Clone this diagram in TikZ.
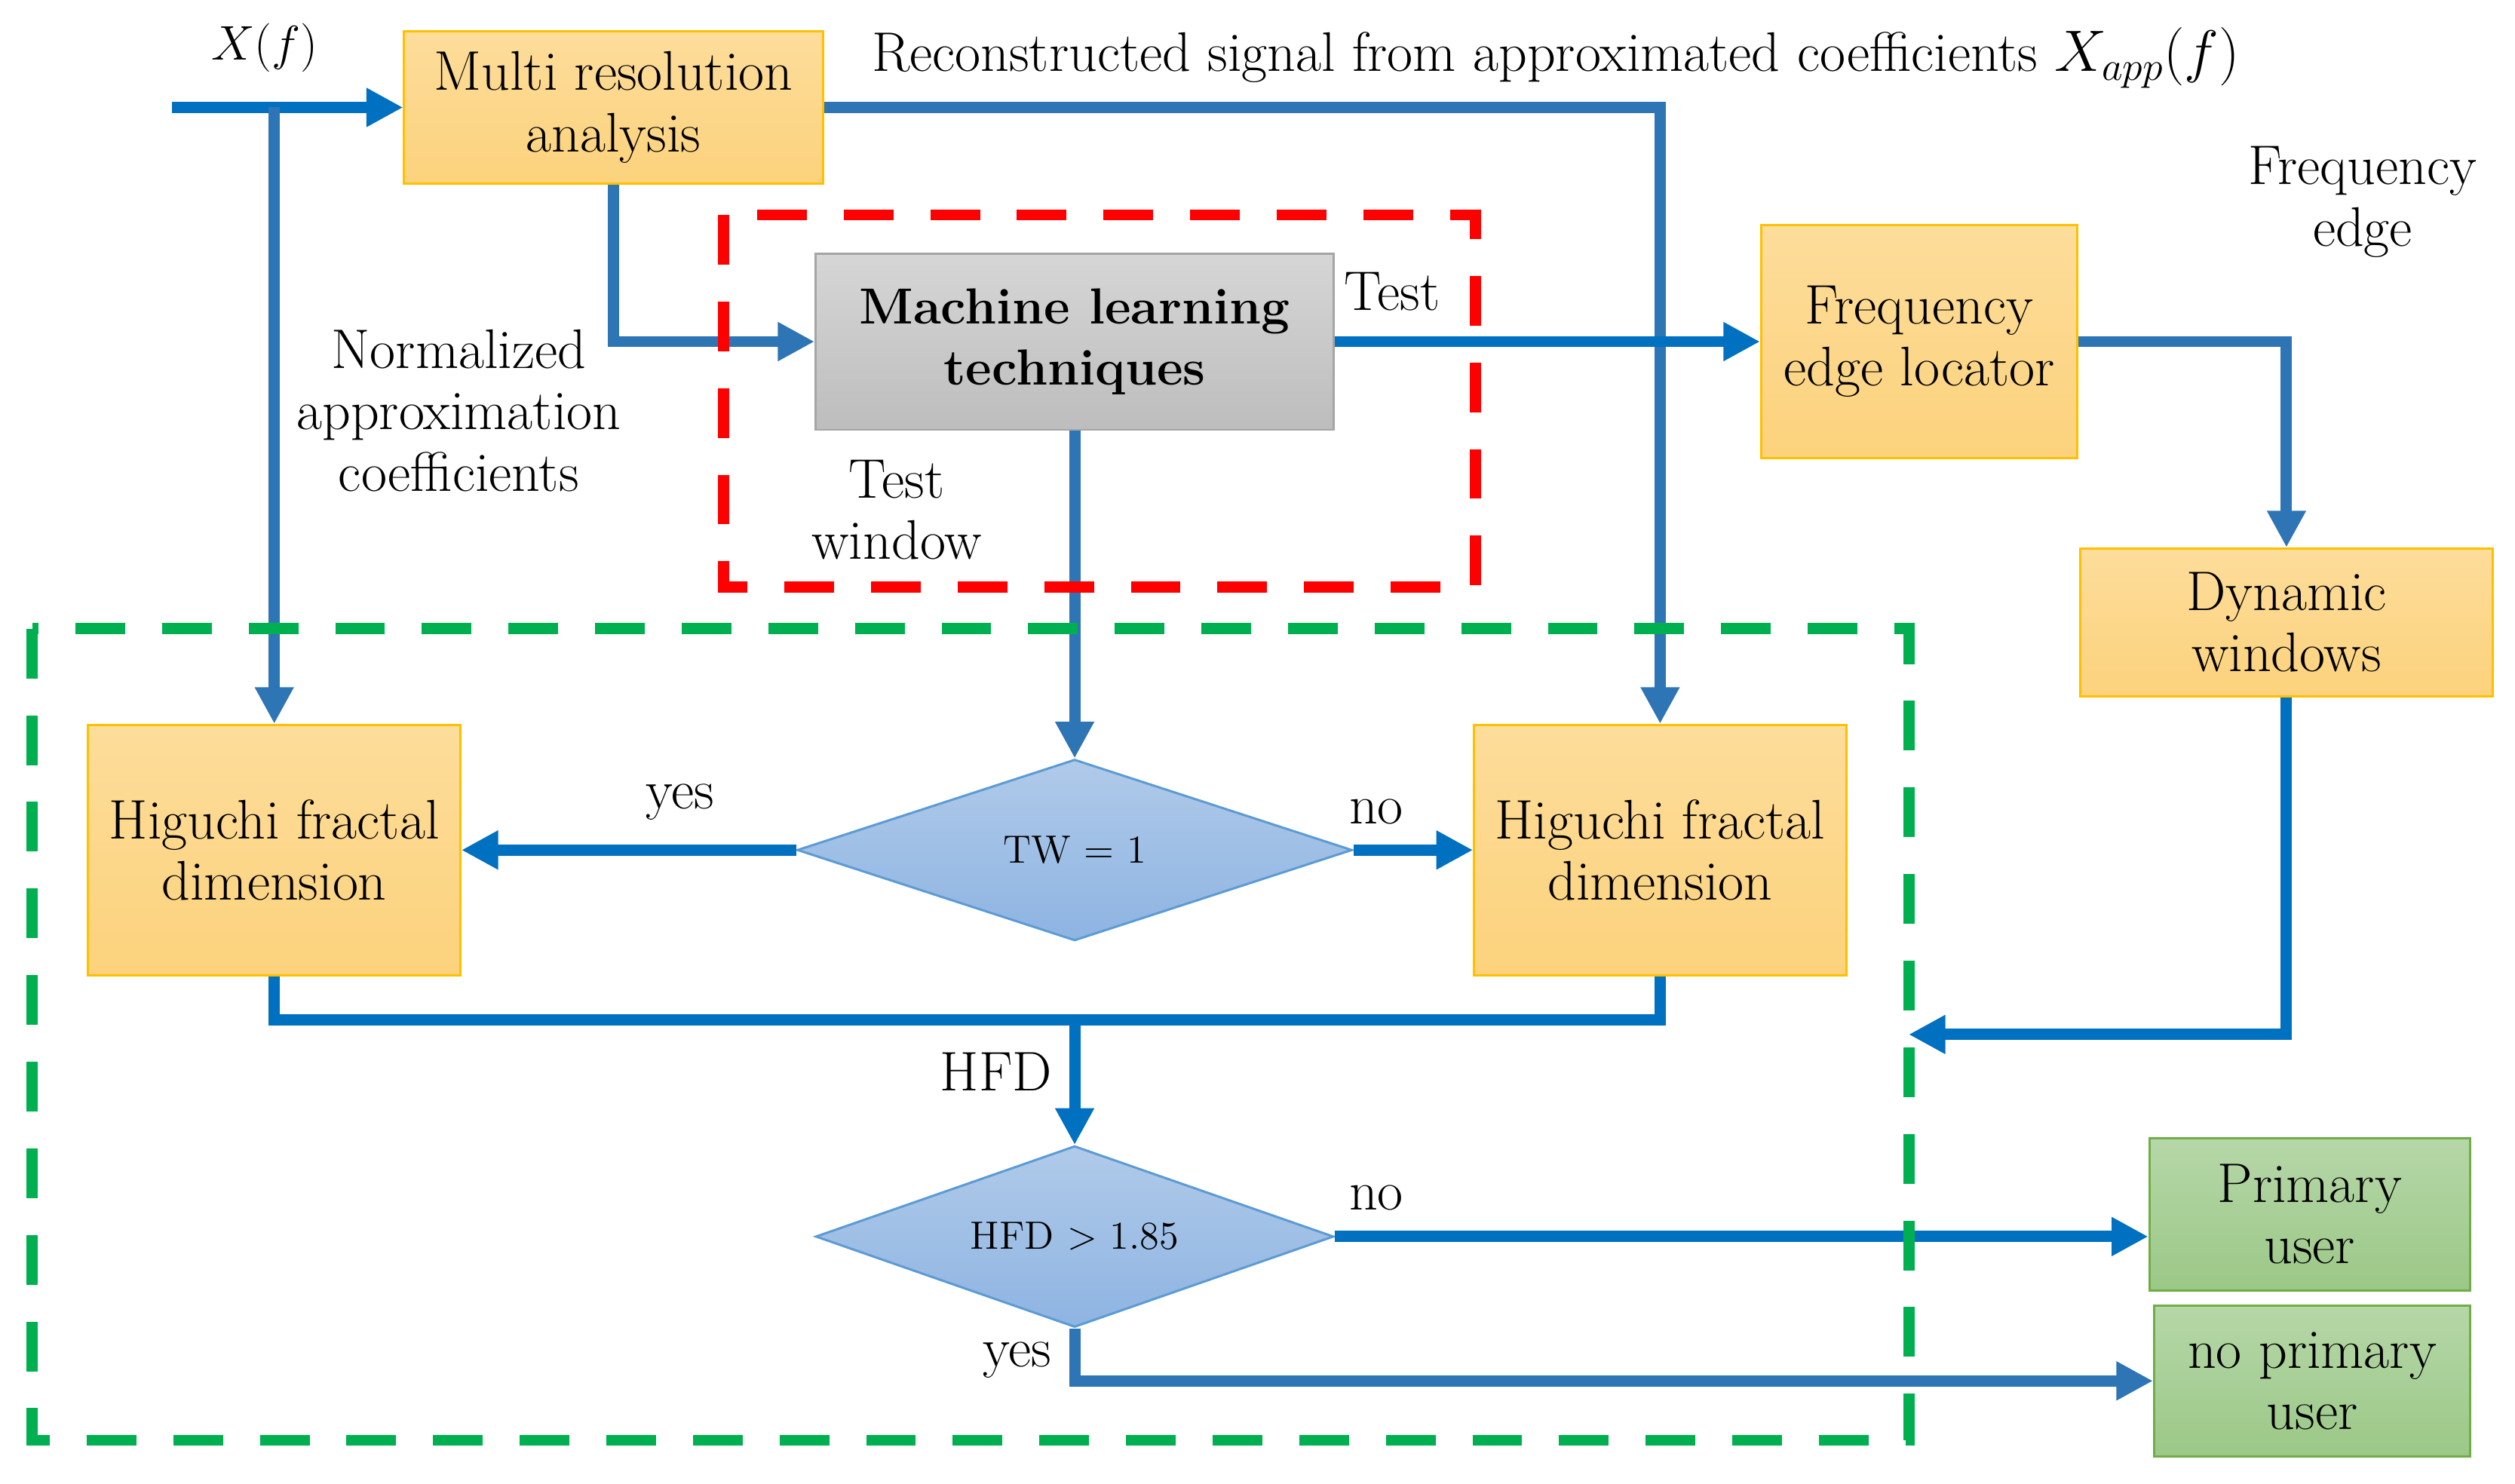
\documentclass[tikz,border=0pt]{standalone}
\usepackage{fontspec}
\usepackage{tikz}
\usetikzlibrary{shapes.geometric,arrows.meta,calc}

\definecolor{flowblue}{HTML}{0070C0}
\definecolor{linkblue}{HTML}{2E75B6}
\definecolor{orangetop}{HTML}{FDDD9B}
\definecolor{orangebot}{HTML}{FCD27C}
\definecolor{orangeedge}{HTML}{FFC000}
\definecolor{greytop}{HTML}{D6D6D6}
\definecolor{greybot}{HTML}{BDBDBD}
\definecolor{greyedge}{HTML}{A5A5A5}
\definecolor{diamtop}{HTML}{B0CAE9}
\definecolor{diambot}{HTML}{8EB4E2}
\definecolor{diamedge}{HTML}{5B9BD5}
\definecolor{greentop}{HTML}{B6D7A8}
\definecolor{greenbot}{HTML}{9BC887}
\definecolor{greenedge}{HTML}{70AD47}
\definecolor{framegreen}{HTML}{00B050}

\tikzset{
  block/.style={draw=orangeedge, line width=0.8pt, top color=orangetop, bottom color=orangebot, align=center, inner sep=2pt},
  mlblock/.style={draw=greyedge, line width=0.8pt, top color=greytop, bottom color=greybot, align=center, inner sep=2pt, font=\fontsize{18}{21.6}\selectfont\bfseries},
  userblock/.style={draw=greenedge, line width=0.8pt, top color=greentop, bottom color=greenbot, align=center, inner sep=2pt},
  decision/.style={diamond, aspect=2.9, draw=diamedge, line width=0.8pt, top color=diamtop, bottom color=diambot, inner sep=0pt, minimum height=2.26cm, font=\fontsize{14}{16.8}\selectfont},
  flow/.style={draw=flowblue, line width=4pt, -{Triangle[length=13pt,width=13pt]}},
  link/.style={draw=linkblue, line width=4pt, -{Triangle[length=13pt,width=13pt]}},
  wire/.style={draw=flowblue, line width=4pt},
  frame/.style={line width=4pt, dash pattern=on 0.62cm off 0.46cm}
}

\begin{document}
\begin{tikzpicture}[font=\fontsize{19.8}{21.8}\selectfont]
\useasboundingbox (0,0) rectangle (31.36,18.5);

% Blocks
\node[block, minimum width=5.22cm, minimum height=1.9cm] (mra) at (7.65,17.16) {Multi resolution\\analysis};
\node[mlblock, minimum width=6.46cm, minimum height=2.2cm] (ml) at (13.4,14.24) {Machine learning\\techniques};
\node[block, minimum width=3.94cm, minimum height=2.9cm] (fel) at (23.93,14.24) {Frequency\\edge locator};
\node[block, minimum width=5.14cm, minimum height=1.84cm] (dw) at (28.51,10.74) {Dynamic\\windows};
\node[block, minimum width=4.64cm, minimum height=3.12cm] (higl) at (3.42,7.9) {Higuchi fractal\\dimension};
\node[block, minimum width=4.64cm, minimum height=3.12cm] (higr) at (20.7,7.9) {Higuchi fractal\\dimension};

% Decisions
\node[decision, minimum width=6.92cm] (tw) at (13.4,7.9) {TW = 1};
\node[decision, minimum width=6.46cm] (hfd) at (13.4,3.08) {HFD > 1.85};

% Outcomes
\node[userblock, minimum width=4.0cm, minimum height=1.9cm] (pu) at (28.8,3.36) {Primary\\user};
\node[userblock, minimum width=3.94cm, minimum height=1.88cm] (npu) at (28.83,1.28) {no primary\\user};

% Input signal
\coordinate (in) at (2.14,17.16);
\coordinate (split) at (3.42,17.16);
\draw[flow] (in) -- (mra.west);
\draw[link] (split) -- (higl.north);
\node[font=\fontsize{16}{19}\selectfont] (xf) at (3.3,17.9) {$X(f)$};

% Reconstructed signal
\draw[link] (mra.east) -| (higr.north);
\node (recon) at (19.4,17.78) {Reconstructed signal from approximated coefficients $X_{app}(f)$};

% Approximation coefficients
\draw[link] (mra.south) |- (ml.west);
\node[align=center] (norm) at (5.72,13.38) {Normalized\\approximation\\coefficients};

% Test path
\draw[flow] (ml.east) -- (fel.west);
\node (test) at (17.36,14.86) {Test};
\draw[link] (fel.east) -| (dw.north);
\node[align=center] (fedge) at (29.46,15.98) {Frequency\\edge};
\coordinate (dwin) at (23.8,5.6);
\draw[flow] (dw.south) |- (dwin);

% Test window
\draw[link] (ml.south) -- (tw.north);
\node[align=center] (twlbl) at (11.18,12.14) {Test\\window};
\draw[flow] (tw.west) -- (higl.east);
\node (yesa) at (8.48,8.5) {yes};
\draw[flow] (tw.east) -- (higr.west);
\node (noa) at (17.16,8.38) {no};

% HFD
\coordinate (join) at (13.4,5.78);
\draw[wire] (higl.south) |- (join) -| (higr.south);
\draw[flow] (join) -- (hfd.north);
\node (hfdlbl) at (12.42,5.14) {HFD};
\draw[flow] (hfd.east) -- (hfd.east -| pu.west);
\node (nob) at (17.16,3.56) {no};
\draw[link] (hfd.south) |- (npu.west);
\node (yesb) at (12.68,1.54) {yes};

% Frames
\draw[frame, red] (9.02,15.82) rectangle (18.4,11.18);
\draw[frame, framegreen] (0.4,10.66) rectangle (23.8,0.54);
\end{tikzpicture}
\end{document}
